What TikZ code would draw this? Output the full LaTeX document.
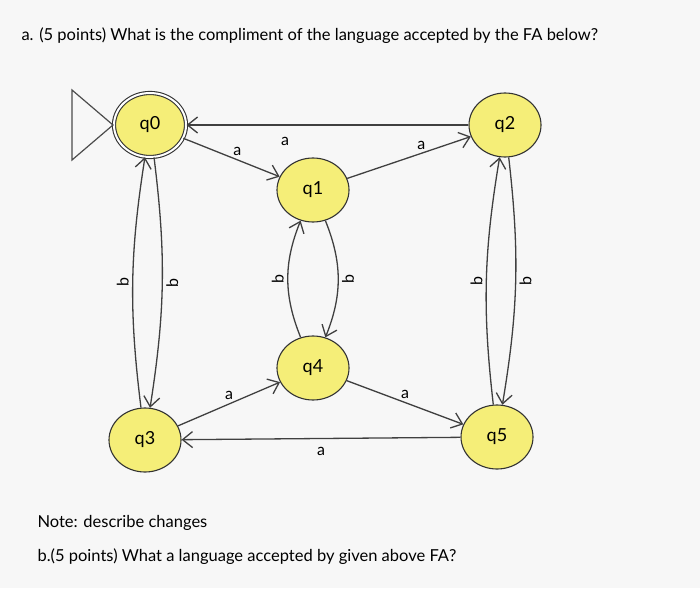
\documentclass[tikz,border=0pt]{standalone}
\usepackage{fontspec}
\setmainfont{Lato}
\usetikzlibrary{arrows.meta,shapes.geometric}
\definecolor{nodey}{HTML}{F5EE78}
\begin{document}
\begin{tikzpicture}[x=1pt,y=-1pt,
 st/.style={ellipse,draw=black!80,line width=1.1pt,fill=nodey,minimum width=72pt,minimum height=64pt,font=\fontsize{18}{18}\selectfont,inner sep=0pt},
 tr/.style={draw=black!75,line width=1.3pt,-{Straight Barb[length=10pt,width=16pt,line width=1.3pt]}},
 lb/.style={font=\fontsize{16}{16}\selectfont},
 tx/.style={font=\fontsize{16.5}{16.5}\selectfont,anchor=west}]
\fill[black!3] (0,0) rectangle (700,588);
\useasboundingbox (0,0) rectangle (700,588);
\node[tx] (t) at (18,36) {a. (5 points) What is the compliment of the language accepted by the FA below?};
\node[tx] (n) at (34,523) {Note: describe changes};
\node[tx] (b) at (34,557) {b.(5 points) What a language accepted by given above FA?};
\node[st,double,double distance=2pt] (q0) at (150,125) {q0};
\node[st] (q1) at (313,190) {q1};
\node[st] (q2) at (505,125) {q2};
\node[st] (q3) at (145,440) {q3};
\node[st] (q4) at (313,368) {q4};
\node[st] (q5) at (497,437) {q5};
\coordinate (i1) at (72,90); \coordinate (i2) at (72,160); \coordinate (i3) at (113,125);
\draw[black!70,line width=1.2pt] (i1)--(i2)--(i3)--cycle;
\draw[tr] (q0)--(q1) node[lb,pos=0.5,above right=-2pt] {a};
\draw[tr] (q1)--(q2) node[lb,pos=0.6,above] {a};
\draw[tr] (q2)--(q0) node[lb,pos=0.65,below=8pt] {a};
\draw[tr] (q3)--(q4) node[lb,pos=0.5,above] {a};
\draw[tr] (q4)--(q5) node[lb,pos=0.5,above] {a};
\draw[tr] (q5)--(q3) node[lb,pos=0.5,below=5pt] {a};
\draw[tr] (q3) to[bend left=8] node[lb,rotate=90,anchor=south] {b} (q0);
\draw[tr] (q0) to[bend left=8] node[lb,rotate=90,anchor=north] {b} (q3);
\draw[tr] (q4) to[bend left=22] node[lb,rotate=90,anchor=south] {b} (q1);
\draw[tr] (q1) to[bend left=22] node[lb,rotate=90,anchor=north] {b} (q4);
\draw[tr] (q5) to[bend left=8] node[lb,rotate=90,anchor=south] {b} (q2);
\draw[tr] (q2) to[bend left=8] node[lb,rotate=90,anchor=north] {b} (q5);
\end{tikzpicture}
\end{document}
